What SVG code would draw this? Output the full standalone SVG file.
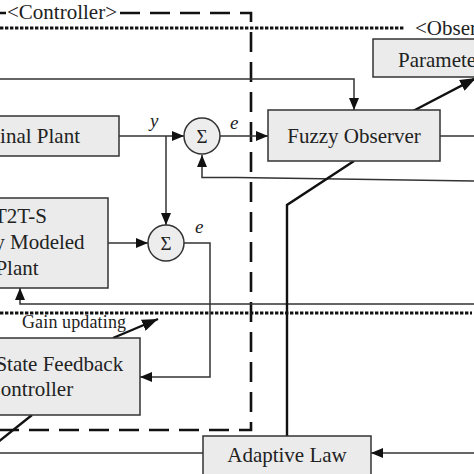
<svg xmlns="http://www.w3.org/2000/svg" width="474" height="474" viewBox="0 0 474 474">
<defs>
<style>
.box{fill:#ebebeb;stroke:#333;stroke-width:1.5}
.sum{fill:#ededed;stroke:#333;stroke-width:1.5}
.t{font-family:"Liberation Serif","Times New Roman",serif;font-size:21px;fill:#222}
.it{font-family:"Liberation Serif","Times New Roman",serif;font-size:19px;font-style:italic;fill:#222}
.w{fill:none;stroke:#333;stroke-width:1.5}
.thick{fill:none;stroke:#111;stroke-width:2.4}
.dash{fill:none;stroke:#111;stroke-width:2.6;stroke-dasharray:20 10}
.dot{fill:none;stroke:#111;stroke-width:3.2;stroke-dasharray:3.4 1.6}
</style>
<marker id="a" markerUnits="userSpaceOnUse" markerWidth="12" markerHeight="10" refX="12" refY="5" orient="auto"><path d="M0,0 L12,5 L0,10 z" fill="#111"/></marker>
<marker id="b" markerUnits="userSpaceOnUse" markerWidth="16" markerHeight="12" refX="16" refY="6" orient="auto"><path d="M0,0 L16,6 L0,12 z" fill="#111"/></marker>
</defs>

<g id="boundaries">
<path class="dash" d="M-2,13 H6 M120,13 H251 V430 H-2"/>
<path class="dot" d="M0,28 H405"/>
<path class="dot" d="M0,313 H472"/>
<text class="t" x="7" y="19">&lt;Controller&gt;</text>
<text class="t" x="415" y="35">&lt;Observer&gt;</text>
</g>

<g id="connectors">
<path class="w" d="M0,79 H354 V110" marker-end="url(#a)"/>
<path class="w" d="M119,136 H184" marker-end="url(#a)"/>
<path class="w" d="M166,136 V225" marker-end="url(#a)"/>
<path class="w" d="M220,136 H268" marker-end="url(#a)"/>
<path class="w" d="M440,136 H476"/>
<path class="w" d="M476,181 L237,177.5 H202 V155" marker-end="url(#a)"/>
<path class="w" d="M108,243 H148" marker-end="url(#a)"/>
<path class="w" d="M184,243 H210 V377 H140" marker-end="url(#a)"/>
<path class="w" d="M476,304 H20 V288" marker-end="url(#a)"/>
<path class="w" d="M0,453 H203"/>
<path class="w" d="M476,453 H371" marker-end="url(#a)"/>
<path class="thick" d="M413,111 L476,78" marker-end="url(#b)"/>
<path class="thick" d="M287,436 V205 L354,161"/>
<path class="thick" d="M113,338 L158,319" marker-end="url(#b)"/>
<path class="thick" d="M32,415 L-2,442"/>
<text class="it" x="150" y="127">y</text>
<text class="it" x="230" y="129">e</text>
<text class="it" x="195" y="233">e</text>
<text class="t" x="22" y="328" style="font-size:18px" textLength="104">Gain updating</text>
</g>

<g id="parameter">
<rect class="box" x="373" y="39" width="110" height="38"/>
<text class="t" x="398" y="67">Parameter</text>
</g>

<g id="original-plant">
<rect class="box" x="-10" y="116" width="129" height="40"/>
<text class="t" x="80" y="143" text-anchor="end">Original Plant</text>
</g>

<g id="sum1">
<circle class="sum" cx="202" cy="136" r="18"/>
<text class="t" x="202" y="143" text-anchor="middle" style="font-size:19px">Σ</text>
</g>

<g id="fuzzy-observer">
<rect class="box" x="268" y="110" width="172" height="51"/>
<text class="t" x="354" y="143" text-anchor="middle">Fuzzy Observer</text>
</g>

<g id="t2ts-plant">
<rect class="box" x="-10" y="198" width="118" height="90"/>
<text class="t" x="17" y="223" text-anchor="middle">IT2T-S</text>
<text class="t" x="19" y="249" text-anchor="middle">Fuzzy Modeled</text>
<text class="t" x="17" y="275" text-anchor="middle">Plant</text>
</g>

<g id="sum2">
<circle class="sum" cx="166" cy="243" r="18"/>
<text class="t" x="166" y="250" text-anchor="middle" style="font-size:19px">Σ</text>
</g>

<g id="state-feedback">
<rect class="box" x="-10" y="338" width="150" height="77"/>
<text class="t" x="31" y="371" text-anchor="middle">Fuzzy State Feedback</text>
<text class="t" x="30" y="396" text-anchor="middle">Controller</text>
</g>

<g id="adaptive-law">
<rect class="box" x="203" y="436" width="168" height="45"/>
<text class="t" x="287" y="462" text-anchor="middle">Adaptive Law</text>
</g>
</svg>
